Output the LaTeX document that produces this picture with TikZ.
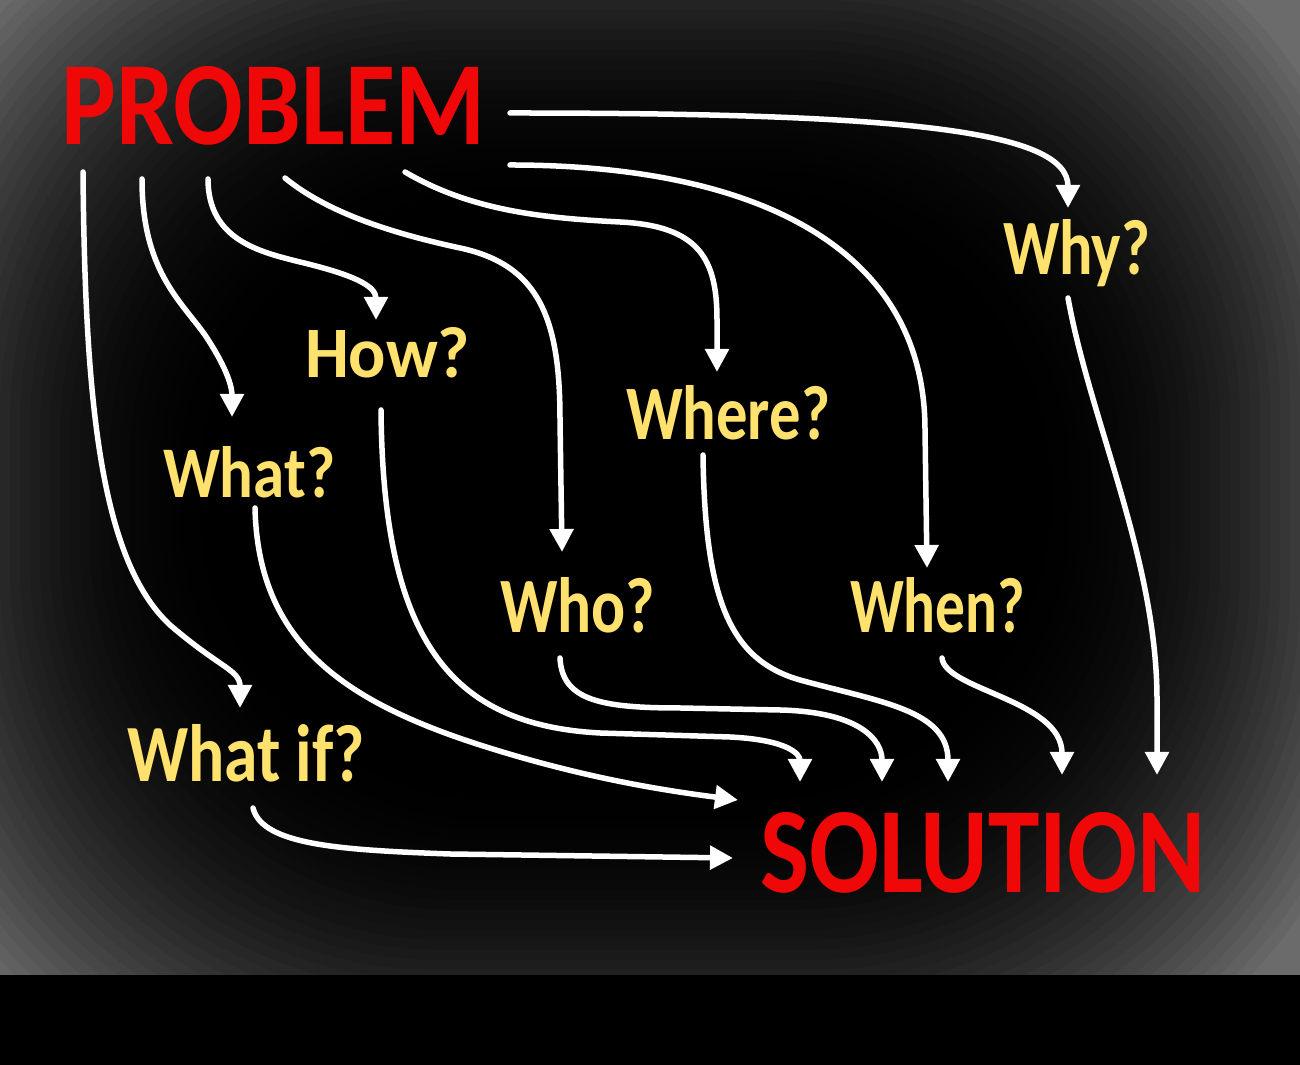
\documentclass[tikz,border=0pt]{standalone}
\usepackage{fontspec}
\setmainfont{Carlito}
\usetikzlibrary{arrows.meta,calc}
\definecolor{chalkred}{RGB}{240,8,8}
\definecolor{chalkyellow}{RGB}{255,226,110}
\definecolor{vgbase}{gray}{0.42}
\begin{document}
\begin{tikzpicture}[x=0.01cm,y=-0.01cm,
  lab/.style={inner sep=0pt,outer sep=0pt,anchor=base west,font=\bfseries},
  arr/.style={draw=white,line width=0.055cm,line cap=round,
    -{Triangle[width=0.23cm,length=0.23cm]}}]
\useasboundingbox (0,0) rectangle (1300,1065);
% board with vignette
\begin{scope}
\clip (0,0) rectangle (1300,975);
\fill[vgbase] (0,0) rectangle (1300,975);
\foreach \s in {-160,-150,...,200}{
  \pgfmathsetmacro\g{0.42*((200.5-(\s))/360.5)^1.9}
  \pgfmathsetmacro\r{(420-0.65*(\s))/100}
  \definecolor{vg}{gray}{\g}
  \fill[vg,rounded corners=\r cm] ({\s+10},{\s}) rectangle ({1300-(\s)-60},{975-(\s)+15});
}
\end{scope}
\fill[black] (0,975) rectangle (1300,1065);
% labels
\node[lab,text=chalkred] (problem) at (62,145) {\resizebox{4.23cm}{0.78cm}{PROBLEM}};
\node[lab,text=chalkyellow] (why) at (1003,275) {\resizebox{1.47cm}{0.55cm}{Why?}};
\node[lab,text=chalkyellow] (how) at (305,378) {\resizebox{1.65cm}{0.50cm}{How?}};
\node[lab,text=chalkyellow] (what) at (163,498) {\resizebox{1.72cm}{0.51cm}{What?}};
\node[lab,text=chalkyellow] (where) at (626,440) {\resizebox{2.04cm}{0.54cm}{Where?}};
\node[lab,text=chalkyellow] (who) at (500,633) {\resizebox{1.55cm}{0.55cm}{Who?}};
\node[lab,text=chalkyellow] (when) at (850,633) {\resizebox{1.75cm}{0.55cm}{When?}};
\node[lab,text=chalkyellow] (whatif) at (127,782) {\resizebox{2.38cm}{0.57cm}{What if?}};
\node[lab,text=chalkred] (solution) at (760,893) {\resizebox{4.45cm}{0.80cm}{SOLUTION}};
% problem -> questions
\draw[arr] ($(problem.base west)+(448,-32)$) .. controls (900,113) and (1068,130) .. ($(why.base west)+(65,-67)$);
\draw[arr] ($(problem.base west)+(448,20)$) .. controls (760,165) and (925,250) .. (925,430) -- ($(when.base west)+(77,-65)$);
\draw[arr] ($(problem.base west)+(343,27)$) .. controls (470,210) and (540,218) .. (620,222) .. controls (700,226) and (717,260) .. (717,320) -- ($(where.base west)+(91,-68)$);
\draw[arr] ($(problem.base west)+(223,33)$) .. controls (330,215) and (400,235) .. (460,248) .. controls (540,265) and (560,320) .. (560,420) -- ($(who.base west)+(62,-81)$);
\draw[arr] ($(problem.base west)+(146,34)$) .. controls (208,240) and (260,252) .. (300,262) .. controls (350,274) and (376,285) .. ($(how.base west)+(71,-58)$);
\draw[arr] ($(problem.base west)+(80,34)$) .. controls (142,270) and (180,300) .. (205,335) .. controls (225,365) and (232,385) .. ($(what.base west)+(69,-81)$);
\draw[arr] ($(problem.base west)+(21,27)$) .. controls (85,400) and (100,560) .. (170,625) .. controls (220,668) and (240,670) .. ($(whatif.base west)+(113,-74)$);
% questions -> solution
\draw[arr] ($(whatif.base west)+(126,26)$) .. controls (262,845) and (340,850) .. (450,854) -- ($(solution.base west)+(-27,-35)$);
\draw[arr] ($(what.base west)+(92,10)$) .. controls (258,640) and (340,700) .. (480,745) .. controls (580,777) and (660,790) .. ($(solution.base west)+(-22,-93)$);
\draw[arr] ($(how.base west)+(76,32)$) .. controls (383,640) and (450,725) .. (600,733) -- (730,737) .. controls (790,740) and (800,755) .. ($(solution.base west)+(40,-111)$);
\draw[arr] ($(who.base west)+(60,25)$) .. controls (562,700) and (600,708) .. (680,708) -- (780,710) .. controls (860,712) and (882,740) .. ($(solution.base west)+(122,-111)$);
\draw[arr] ($(where.base west)+(77,15)$) .. controls (705,600) and (730,660) .. (800,680) .. controls (880,702) and (948,710) .. ($(solution.base west)+(188,-111)$);
\draw[arr] ($(when.base west)+(92,25)$) .. controls (945,690) and (1062,700) .. ($(solution.base west)+(302,-118)$);
\draw[arr] ($(why.base west)+(65,23)$) .. controls (1090,420) and (1157,560) .. (1157,700) -- ($(solution.base west)+(397,-118)$);
\end{tikzpicture}
\end{document}
